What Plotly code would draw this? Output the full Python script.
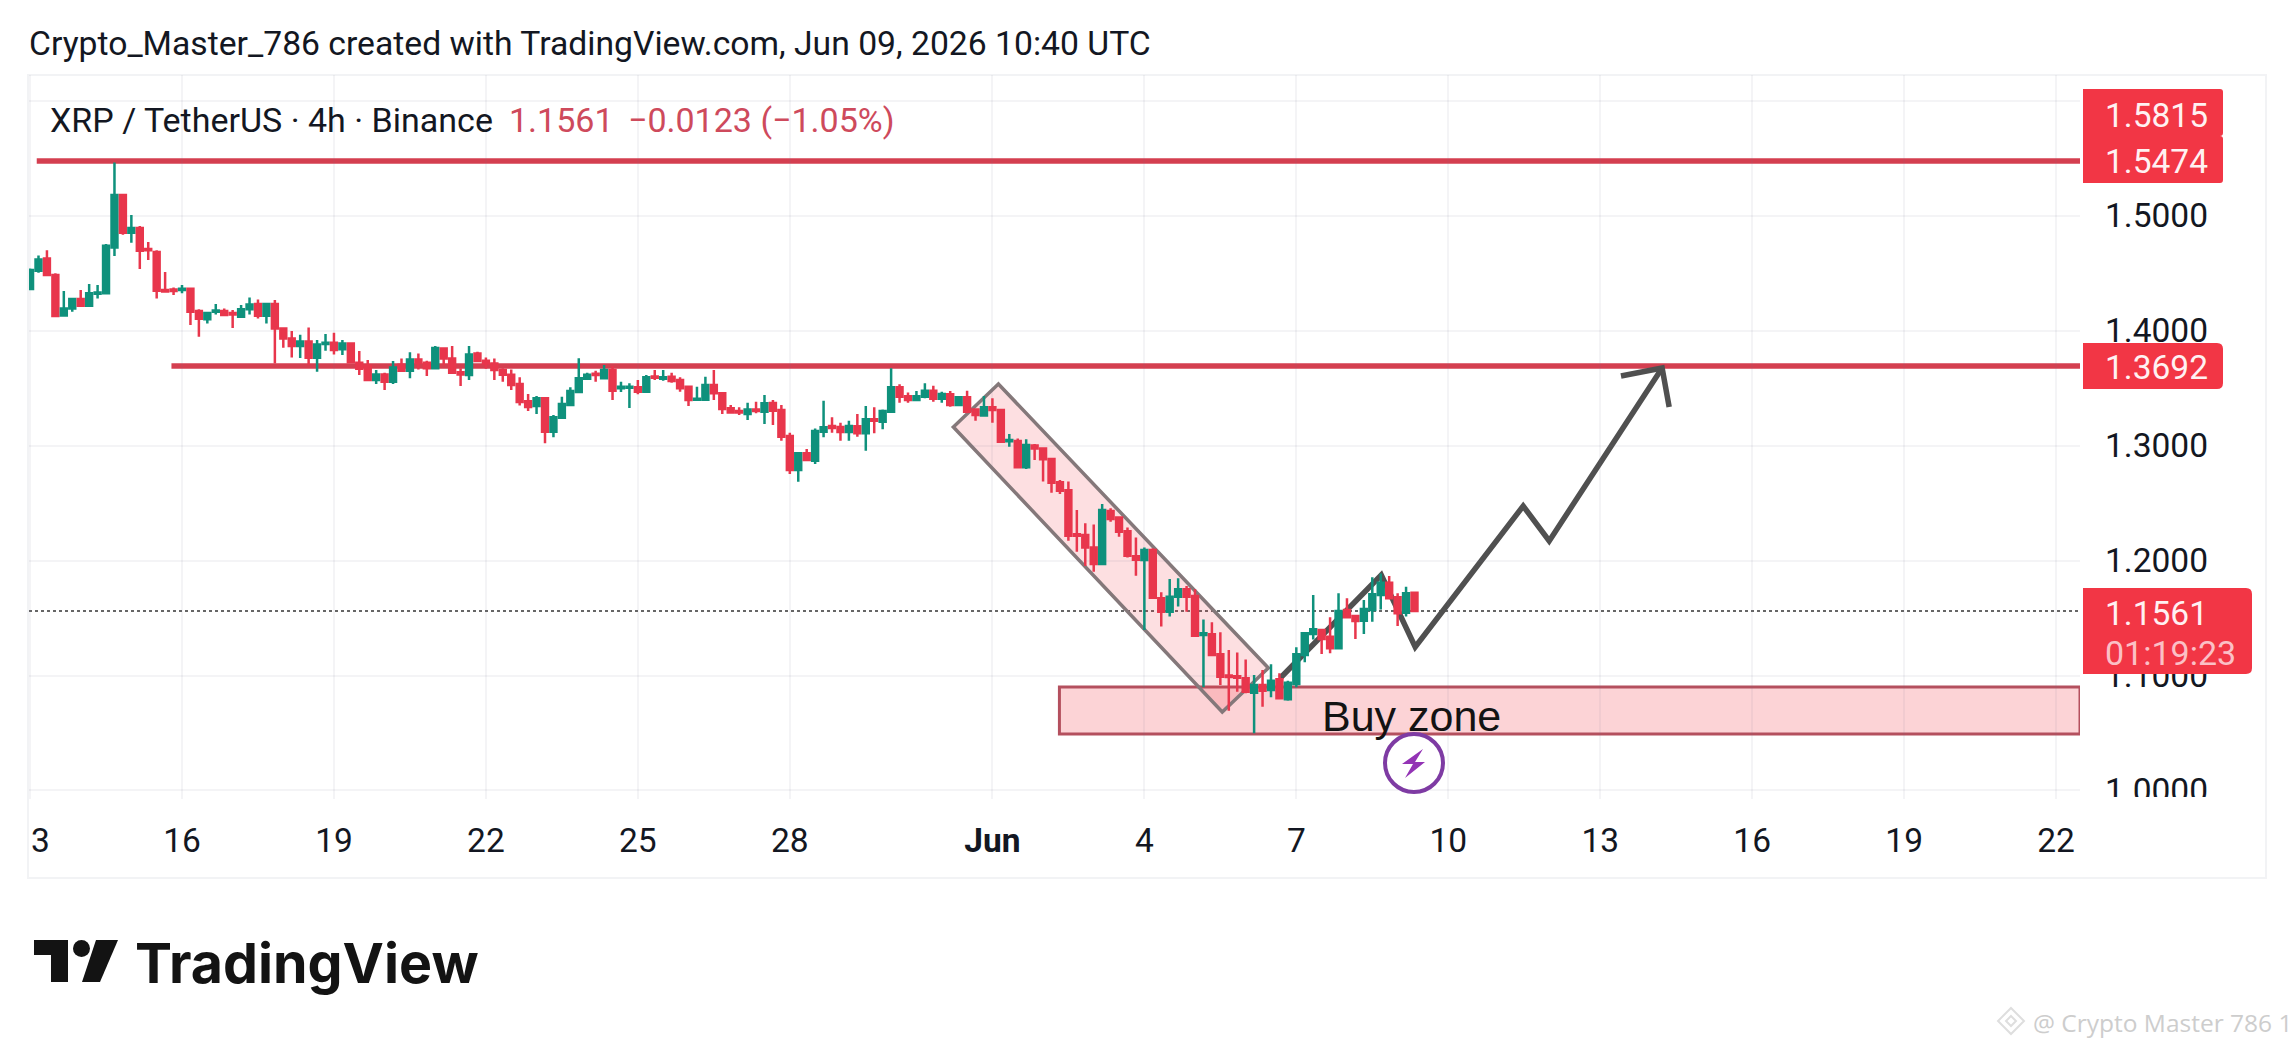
import pandas as pd
import plotly.graph_objects as go

W = 2294
H = 1047

# 4h candles
first_candle = "2026-05-13 00:00"
opens = [
    1.4360, 1.4520, 1.4627, 1.4482, 1.4131, 1.4192, 1.4273, 1.4215, 1.4320, 1.4323,
    1.4723, 1.5178, 1.4850, 1.4891, 1.4708, 1.4682, 1.4352, 1.4357, 1.4352, 1.4363,
    1.4169, 1.4099, 1.4163, 1.4169, 1.4152, 1.4120, 1.4184, 1.4230, 1.4128, 1.4230,
    1.4018, 1.3931, 1.3865, 1.3905, 1.3763, 1.3882, 1.3894, 1.3836, 1.3888, 1.3720,
    1.3691, 1.3569, 1.3618, 1.3555, 1.3702, 1.3650, 1.3749, 1.3720, 1.3671, 1.3844,
    1.3757, 1.3636, 1.3613, 1.3801, 1.3737, 1.3714, 1.3656, 1.3616, 1.3535, 1.3384,
    1.3343, 1.3410, 1.3120, 1.3242, 1.3352, 1.3465, 1.3581, 1.3625, 1.3584, 1.3656,
    1.3497, 1.3503, 1.3506, 1.3468, 1.3601, 1.3581, 1.3599, 1.3570, 1.3512, 1.3399,
    1.3399, 1.3526, 1.3454, 1.3323, 1.3300, 1.3274, 1.3314, 1.3294, 1.3370, 1.3309,
    1.3083, 1.2787, 1.2932, 1.2868, 1.3120, 1.3170, 1.3161, 1.3117, 1.3167, 1.3106,
    1.3228, 1.3207, 1.3294, 1.3506, 1.3428, 1.3396, 1.3425, 1.3477, 1.3407, 1.3445,
    1.3352, 1.3419, 1.3314, 1.3262, 1.3332, 1.3309, 1.3036, 1.3039, 1.2810, 1.3001,
    1.2975, 1.2883, 1.2680, 1.2610, 1.2228, 1.2222, 1.2112, 1.1970, 1.2430, 1.2373,
    1.2254, 1.2036, 1.2004, 1.2091, 1.1671, 1.1555, 1.1685, 1.1749, 1.1691, 1.1352,
    1.1358, 1.1184, 1.1001, 1.0993, 1.0975, 1.0850, 1.0917, 1.0874, 1.0967, 1.0793,
    1.0926, 1.1178, 1.1361, 1.1396, 1.1338, 1.1236, 1.1570, 1.1517, 1.1477, 1.1570,
    1.1700, 1.1807, 1.1680, 1.1546, 1.1720,
]
highs = [
    1.4540, 1.4653, 1.4699, 1.4497, 1.4343, 1.4273, 1.4352, 1.4404, 1.4395, 1.4752,
    1.5462, 1.5178, 1.5004, 1.4908, 1.4769, 1.4699, 1.4508, 1.4375, 1.4395, 1.4369,
    1.4186, 1.4157, 1.4230, 1.4192, 1.4178, 1.4221, 1.4288, 1.4270, 1.4241, 1.4265,
    1.4027, 1.3995, 1.3963, 1.4027, 1.3917, 1.3969, 1.3981, 1.3917, 1.3888, 1.3821,
    1.3743, 1.3656, 1.3633, 1.3734, 1.3757, 1.3810, 1.3801, 1.3737, 1.3865, 1.3853,
    1.3865, 1.3671, 1.3865, 1.3815, 1.3766, 1.3757, 1.3671, 1.3662, 1.3593, 1.3448,
    1.3430, 1.3410, 1.3265, 1.3425, 1.3506, 1.3758, 1.3633, 1.3651, 1.3700, 1.3691,
    1.3555, 1.3541, 1.3570, 1.3613, 1.3656, 1.3656, 1.3633, 1.3593, 1.3517, 1.3512,
    1.3599, 1.3656, 1.3460, 1.3352, 1.3332, 1.3372, 1.3381, 1.3439, 1.3396, 1.3352,
    1.3112, 1.2932, 1.2970, 1.3149, 1.3390, 1.3245, 1.3198, 1.3216, 1.3274, 1.3343,
    1.3332, 1.3314, 1.3671, 1.3532, 1.3462, 1.3474, 1.3541, 1.3520, 1.3468, 1.3474,
    1.3430, 1.3477, 1.3323, 1.3430, 1.3410, 1.3314, 1.3100, 1.3062, 1.3054, 1.3013,
    1.2975, 1.2883, 1.2700, 1.2686, 1.2439, 1.2323, 1.2314, 1.2491, 1.2454, 1.2381,
    1.2288, 1.2201, 1.2112, 1.2106, 1.1723, 1.1839, 1.1845, 1.1778, 1.1749, 1.1488,
    1.1462, 1.1375, 1.1222, 1.1201, 1.1140, 1.1004, 1.1048, 1.1097, 1.1019, 1.0955,
    1.1245, 1.1367, 1.1700, 1.1402, 1.1506, 1.1715, 1.1671, 1.1523, 1.1657, 1.1854,
    1.1888, 1.1865, 1.1715, 1.1772, 1.1729,
]
lows = [
    1.4357, 1.4502, 1.4476, 1.4120, 1.4131, 1.4163, 1.4215, 1.4215, 1.4279, 1.4323,
    1.4647, 1.4833, 1.4763, 1.4534, 1.4613, 1.4279, 1.4334, 1.4308, 1.4323, 1.4047,
    1.3946, 1.4062, 1.4140, 1.4126, 1.4021, 1.4120, 1.4140, 1.4105, 1.4062, 1.3714,
    1.3850, 1.3766, 1.3760, 1.3699, 1.3642, 1.3824, 1.3792, 1.3786, 1.3714, 1.3613,
    1.3563, 1.3534, 1.3482, 1.3534, 1.3650, 1.3584, 1.3662, 1.3604, 1.3671, 1.3699,
    1.3627, 1.3517, 1.3569, 1.3728, 1.3668, 1.3569, 1.3555, 1.3483, 1.3349, 1.3300,
    1.3274, 1.3019, 1.3071, 1.3242, 1.3343, 1.3459, 1.3570, 1.3555, 1.3578, 1.3396,
    1.3465, 1.3326, 1.3445, 1.3459, 1.3570, 1.3564, 1.3546, 1.3468, 1.3343, 1.3399,
    1.3399, 1.3396, 1.3274, 1.3280, 1.3265, 1.3222, 1.3280, 1.3187, 1.3178, 1.3042,
    1.2752, 1.2685, 1.2868, 1.2839, 1.3071, 1.3112, 1.3042, 1.3042, 1.3077, 1.2955,
    1.3106, 1.3141, 1.3285, 1.3372, 1.3372, 1.3387, 1.3410, 1.3381, 1.3372, 1.3338,
    1.3343, 1.3280, 1.3216, 1.3262, 1.3199, 1.3033, 1.2990, 1.2801, 1.2796, 1.2874,
    1.2686, 1.2590, 1.2578, 1.2172, 1.2077, 1.1952, 1.1903, 1.1970, 1.2338, 1.2207,
    1.2027, 1.1868, 1.1396, 1.1677, 1.1425, 1.1512, 1.1599, 1.1555, 1.1338, 1.0897,
    1.1172, 1.0917, 1.0694, 1.0859, 1.0845, 1.0497, 1.0729, 1.0810, 1.0796, 1.0781,
    1.0897, 1.1115, 1.1314, 1.1187, 1.1193, 1.1228, 1.1497, 1.1317, 1.1361, 1.1468,
    1.1575, 1.1662, 1.1430, 1.1512, 1.1549,
]
closes = [
    1.4526, 1.4618, 1.4482, 1.4126, 1.4192, 1.4273, 1.4215, 1.4323, 1.4331, 1.4737,
    1.5178, 1.4850, 1.4891, 1.4694, 1.4697, 1.4346, 1.4340, 1.4343, 1.4363, 1.4163,
    1.4102, 1.4152, 1.4175, 1.4134, 1.4140, 1.4184, 1.4227, 1.4128, 1.4230, 1.4018,
    1.3931, 1.3865, 1.3905, 1.3763, 1.3879, 1.3894, 1.3830, 1.3888, 1.3723, 1.3668,
    1.3569, 1.3618, 1.3555, 1.3679, 1.3650, 1.3749, 1.3720, 1.3671, 1.3847, 1.3757,
    1.3633, 1.3618, 1.3792, 1.3734, 1.3714, 1.3656, 1.3616, 1.3526, 1.3378, 1.3335,
    1.3410, 1.3120, 1.3245, 1.3361, 1.3474, 1.3584, 1.3616, 1.3613, 1.3656, 1.3477,
    1.3512, 1.3512, 1.3468, 1.3593, 1.3590, 1.3593, 1.3561, 1.3497, 1.3396, 1.3407,
    1.3526, 1.3454, 1.3317, 1.3288, 1.3286, 1.3314, 1.3300, 1.3367, 1.3303, 1.3077,
    1.2787, 1.2932, 1.2874, 1.3126, 1.3158, 1.3152, 1.3117, 1.3170, 1.3106, 1.3228,
    1.3216, 1.3300, 1.3506, 1.3425, 1.3396, 1.3428, 1.3477, 1.3407, 1.3448, 1.3352,
    1.3419, 1.3294, 1.3265, 1.3332, 1.3309, 1.3033, 1.3048, 1.2810, 1.3004, 1.2975,
    1.2880, 1.2677, 1.2607, 1.2216, 1.2216, 1.2112, 1.1970, 1.2439, 1.2361, 1.2251,
    1.2042, 1.2007, 1.2091, 1.1677, 1.1555, 1.1685, 1.1749, 1.1685, 1.1346, 1.1367,
    1.1178, 1.0990, 1.0987, 1.0981, 1.0859, 1.0917, 1.0868, 1.0955, 1.0802, 1.0938,
    1.1184, 1.1367, 1.1402, 1.1317, 1.1236, 1.1561, 1.1506, 1.1474, 1.1578, 1.1706,
    1.1807, 1.1671, 1.1541, 1.1715, 1.1561,
]

# axis ticks
x_tick_dates = ["2026-05-13", "2026-05-16", "2026-05-19", "2026-05-22", "2026-05-25",
                "2026-05-28", "2026-06-01", "2026-06-04", "2026-06-07", "2026-06-10",
                "2026-06-13", "2026-06-16", "2026-06-19", "2026-06-22"]
x_tick_text = ["", "16", "19", "22", "25", "28", "<b>Jun</b>", "4", "7", "10", "13", "16", "19", "22"]
y_tick_vals = [1.0, 1.1, 1.2, 1.3, 1.4, 1.5, 1.6]
y_tick_text = ["1.0000", "1.1000", "1.2000", "1.3000", "1.4000", "1.5000", ""]

# drawings on the chart
top_level = 1.5474
mid_level = 1.3692
last_price = 1.1561
top_level_start = "2026-05-13 03:10"
mid_level_start = "2026-05-15 19:00"
zone_start = "2026-06-02 07:45"
zone_low = 1.0491
zone_high = 1.0900
channel_dates = ["2026-06-01 02:50", "2026-05-31 05:30", "2026-06-05 12:55", "2026-06-06 10:45"]
channel_prices = [1.3535, 1.3161, 1.0683, 1.1065]
forecast_dates = ["2026-06-06 16:25", "2026-06-08 16:15", "2026-06-09 08:20",
                  "2026-06-11 11:30", "2026-06-11 23:50", "2026-06-14 05:20"]
forecast_prices = [1.0978, 1.1874, 1.1248, 1.2474, 1.2170, 1.3674]
head_dates = ["2026-06-13 09:50", "2026-06-14 05:20", "2026-06-14 08:40"]
head_prices = [1.3604, 1.3674, 1.3335]

x_range = ["2026-05-12 23:30", "2026-06-22 11:20"]
y_range = [0.9926, 1.6222]

UP = "#0F917C"
DOWN = "#E8364C"
LINE_RED = "#D43F50"
LABEL_RED = "#F23645"
GRID = "rgba(110,120,140,0.08)"
FONT = "Roboto"


def px(x):
    return x / W


def py(y):
    return 1 - y / H


def date_path(dates, prices, closed=False):
    pts = [f"{d.replace(' ', '_')}:00,{p}" for d, p in zip(dates, prices)]
    return "M " + " L ".join(pts) + (" Z" if closed else "")


def pixel_path(points, closed=True):
    pts = [f"{px(x):.5f},{py(y):.5f}" for x, y in points]
    return "M " + " L ".join(pts) + (" Z" if closed else "")


def round_box(x0, y0, x1, y1, r=6):
    # label box with rounded right corners, in page pixels
    return (f"M {px(x0):.5f},{py(y0):.5f} L {px(x1 - r):.5f},{py(y0):.5f} "
            f"Q {px(x1):.5f},{py(y0):.5f} {px(x1):.5f},{py(y0 + r):.5f} "
            f"L {px(x1):.5f},{py(y1 - r):.5f} "
            f"Q {px(x1):.5f},{py(y1):.5f} {px(x1 - r):.5f},{py(y1):.5f} "
            f"L {px(x0):.5f},{py(y1):.5f} Z")


def text(s, x, y, size=34, color="#131722", family=FONT, anchor="left"):
    return dict(text=s, x=px(x), y=py(y), xref="paper", yref="paper", showarrow=False,
                xanchor=anchor, yanchor="middle", font=dict(size=size, color=color, family=family))


times = pd.date_range(first_candle, periods=len(closes), freq="4h")

fig = go.Figure()
fig.add_trace(go.Candlestick(
    x=times, open=opens, high=highs, low=lows, close=closes,
    increasing=dict(line=dict(color=UP, width=2.5), fillcolor=UP),
    decreasing=dict(line=dict(color=DOWN, width=2.5), fillcolor=DOWN),
    hoverinfo="skip", showlegend=False,
))

end_date = x_range[1]
shapes = [
    # outer frame
    dict(type="rect", xref="paper", yref="paper", x0=px(28), x1=px(2266), y0=py(878), y1=py(75),
         line=dict(color="#F2F3F5", width=2), layer="below"),
    dict(type="line", xref="x", yref="y", x0=x_range[0], x1=end_date, y0=last_price, y1=last_price,
         line=dict(color="#666666", width=2, dash="dot"), layer="below"),
    dict(type="rect", xref="x", yref="y", x0=zone_start, x1=end_date, y0=zone_low, y1=zone_high,
         fillcolor="rgba(242,54,69,0.22)", line=dict(color="#B4505E", width=3), layer="below"),
    dict(type="path", xref="x", yref="y", path=date_path(channel_dates, channel_prices, True),
         fillcolor="rgba(242,54,69,0.16)", line=dict(color="#84787A", width=3.5), layer="below"),
    dict(type="line", xref="x", yref="y", x0=top_level_start, x1=end_date, y0=top_level, y1=top_level,
         line=dict(color=LINE_RED, width=5.5), layer="below"),
    dict(type="line", xref="x", yref="y", x0=mid_level_start, x1=end_date, y0=mid_level, y1=mid_level,
         line=dict(color=LINE_RED, width=5.5), layer="below"),
    dict(type="path", xref="x", yref="y", path=date_path(forecast_dates, forecast_prices),
         line=dict(color="#505050", width=5.5), layer="below"),
    dict(type="path", xref="x", yref="y", path=date_path(head_dates, head_prices),
         line=dict(color="#505050", width=5.5), layer="below"),
    # 1.0000 is cut off at the bottom of the pane
    dict(type="rect", xref="paper", yref="paper", x0=px(2085), x1=px(2262), y0=py(820), y1=py(797),
         fillcolor="white", line=dict(width=0)),
    # price labels
    dict(type="path", xref="paper", yref="paper", path=round_box(2083, 89, 2223, 136, 3),
         fillcolor=LABEL_RED, line=dict(width=0)),
    dict(type="path", xref="paper", yref="paper", path=round_box(2083, 136, 2223, 183, 3),
         fillcolor=LABEL_RED, line=dict(width=0)),
    dict(type="path", xref="paper", yref="paper", path=round_box(2083, 343, 2223, 389),
         fillcolor=LABEL_RED, line=dict(width=0)),
    dict(type="path", xref="paper", yref="paper", path=round_box(2083, 588, 2252, 674),
         fillcolor=LABEL_RED, line=dict(width=0)),
    # bolt badge
    dict(type="circle", xref="paper", yref="paper", x0=px(1385), x1=px(1443), y0=py(792), y1=py(734),
         fillcolor="white", line=dict(color="#7E3BA3", width=4)),
    dict(type="path", xref="paper", yref="paper", fillcolor="#9333B5", line=dict(width=0),
         path=pixel_path([(1423, 749), (1402, 764), (1413, 764), (1405, 778), (1425, 762), (1415, 762)])),
    # TradingView logo
    dict(type="path", xref="paper", yref="paper", fillcolor="#131313", line=dict(width=0),
         path=pixel_path([(34, 940), (68, 940), (68, 982), (51, 982), (51, 955), (34, 955)])),
    dict(type="circle", xref="paper", yref="paper", x0=px(73), x1=px(90), y0=py(957), y1=py(940),
         fillcolor="#131313", line=dict(width=0)),
    dict(type="path", xref="paper", yref="paper", fillcolor="#131313", line=dict(width=0),
         path=pixel_path([(96, 940), (118, 940), (100, 982), (82, 982)])),
    # watermark mark
    dict(type="path", xref="paper", yref="paper", fillcolor="rgba(0,0,0,0)",
         line=dict(color="#DEDEDE", width=2),
         path=pixel_path([(2011, 1008), (2024, 1021), (2011, 1034), (1998, 1021)])),
    dict(type="path", xref="paper", yref="paper", fillcolor="rgba(0,0,0,0)",
         line=dict(color="#DEDEDE", width=2),
         path=pixel_path([(2011, 1016), (2016, 1021), (2011, 1026), (2006, 1021)])),
]

annotations = [
    text("Crypto_Master_786 created with TradingView.com, Jun 09, 2026 10:40 UTC", 27, 44, size=33.7),
    text("XRP / TetherUS · 4h · Binance", 48, 120),
    text("1.1561", 507, 120, color="#CE4A5C"),
    text("−0.0123 (−1.05%)", 626, 120, color="#CE4A5C"),
    text("1.5815", 2103, 115, size=33.5, color="#FFF1F2"),
    text("1.5474", 2103, 161, size=33.5, color="#FFF1F2"),
    text("1.3692", 2103, 367, size=33.5, color="#FFF1F2"),
    text("1.1561", 2103, 613, size=33.5, color="#FFF1F2"),
    text("01:19:23", 2103, 653, size=34, color="#FBC0C6"),
    text("3", 29, 840, size=33.5),
    text("Buy zone", 1411, 716, size=43, color="#131313", family="Liberation Sans", anchor="center"),
    text("<b>TradingView</b>", 133, 962, size=55.5, color="#131313", family="Inter"),
    text("@ Crypto Master 786 1", 2031, 1022, size=24.5, color="#CDCDCD", family="Open Sans"),
]

fig.update_layout(
    width=W, height=H,
    margin=dict(l=0, r=0, t=0, b=0, autoexpand=False),
    paper_bgcolor="white", plot_bgcolor="white",
    font=dict(family=FONT, size=33.5, color="#131722"),
    boxgap=0.3, boxgroupgap=0,
    showlegend=False,
    shapes=shapes, annotations=annotations,
    xaxis=dict(
        domain=[px(29), px(2080)], range=x_range, type="date", automargin=False,
        rangeslider=dict(visible=False),
        tickmode="array", tickvals=x_tick_dates, ticktext=x_tick_text,
        ticks="", ticklabelstandoff=18, tickangle=0,
        showgrid=True, gridcolor=GRID, gridwidth=2, zeroline=False, showline=False,
    ),
    yaxis=dict(
        domain=[py(799), py(75)], range=y_range, side="right", automargin=False,
        tickmode="array", tickvals=y_tick_vals, ticktext=y_tick_text,
        ticks="", ticklabelstandoff=24,
        showgrid=True, gridcolor=GRID, gridwidth=2, zeroline=False, showline=False,
    ),
)

# page margin would push the whole chart 8px off
fig.write_html("out.html", config=dict(displayModeBar=False),
               post_script="document.body.style.margin='0';")
